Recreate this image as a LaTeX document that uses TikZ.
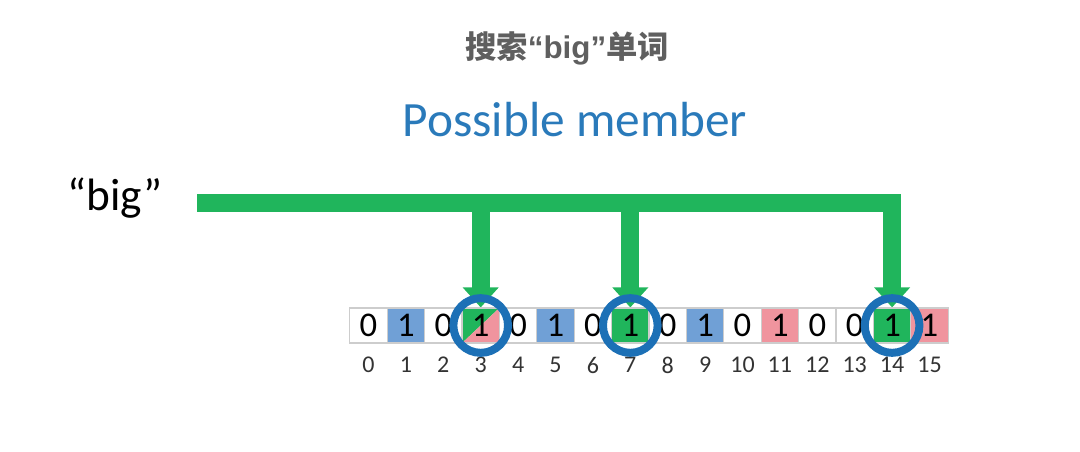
\documentclass[tikz,border=0pt]{standalone}
\usepackage{fontspec}
\setmainfont{Carlito}
\newfontfamily\cjk{Noto Sans CJK SC}
\newfontfamily\latinbold{Liberation Sans}
\usetikzlibrary{arrows.meta,backgrounds}

\definecolor{busgreen}{RGB}{32,181,92}
\definecolor{ringblue}{RGB}{28,112,182}
\definecolor{cellblue}{RGB}{112,160,214}
\definecolor{cellpink}{RGB}{240,148,158}
\definecolor{cellgray}{RGB}{205,205,205}
\definecolor{titlegray}{RGB}{95,95,95}
\definecolor{headblue}{RGB}{42,122,186}

\tikzset{
  cellbox/.style={draw=cellgray,line width=0.8pt,minimum width=28.05pt,minimum height=26.25pt,inner sep=0pt,font=\fontsize{26}{26}\selectfont},
  idxlabel/.style={inner sep=0.75pt,text=black!80,font=\fontsize{18}{18}\selectfont},
  hitring/.style={circle,draw=ringblue,line width=6pt,minimum size=41pt,inner sep=0pt},
  bus/.style={draw=busgreen,line width=13.5pt,line join=miter,-{Triangle[width=26pt,length=15pt]}}
}

\begin{document}
\begin{tikzpicture}[x=0.75pt,y=0.75pt,yscale=-1,xscale=1]
\useasboundingbox (0,0) rectangle (1080,452);

% Text Node
\node [text=titlegray] (title) at (567,48) {\fontsize{23.5}{24}\selectfont\cjk\bfseries 搜索{\latinbold\bfseries “big”}单词};
% Text Node
\node [text=headblue] (head) at (575,120) {\fontsize{37}{37}\selectfont Possible member};
% Text Node
\node [anchor=base,inner sep=0.75pt] (word) at (115,210) {\fontsize{34}{34}\selectfont “big”};

%Bit array
\foreach \i/\b/\f in {0/0/white,1/1/cellblue,2/0/white,3/1/none,4/0/white,5/1/cellblue,6/0/white,7/1/busgreen,8/0/white,9/1/cellblue,10/0/white,11/1/cellpink,12/0/white,13/0/white,14/1/busgreen,15/1/cellpink}
  \node [cellbox,fill=\f] (c\i) at (368.5+37.4*\i,325.5) {\b};
\foreach \i in {0,...,15}
  \node [idxlabel] (n\i) at (368.5+37.4*\i,365) {\i};

\begin{scope}[on background layer]
%Straight Lines
\coordinate (busstart) at (197,203);
\draw [bus] (busstart) -- (c14 |- busstart) -- (c14.north);
\draw [bus] (c3 |- busstart) -- (c3.north);
\draw [bus] (c7 |- busstart) -- (c7.north);
%Shape: split cell
\fill [busgreen] (c3.north west) -- (c3.north east) -- (c3.south west) -- cycle;
\fill [cellpink] (c3.north east) -- (c3.south east) -- (c3.south west) -- cycle;
\end{scope}

%Shape: Circle
\foreach \i in {3,7,14}
  \node [hitring] (r\i) at (c\i) {};

\end{tikzpicture}
\end{document}
